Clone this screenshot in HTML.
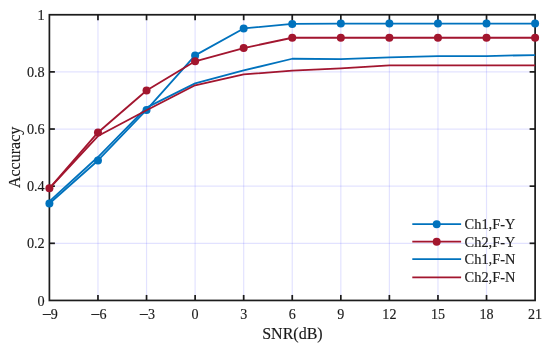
<!DOCTYPE html><html><head><meta charset="utf-8"><title>Accuracy vs SNR</title>
<style>html,body{margin:0;padding:0;background:#fff}svg{display:block}text{font-family:"Liberation Serif","Times New Roman",serif;fill:#1a1a1a;stroke:#1a1a1a;stroke-width:0.15px}</style></head><body>
<svg width="550" height="347" viewBox="0 0 550 347">
<defs><filter id="soft" x="0" y="0" width="550" height="347" filterUnits="userSpaceOnUse"><feGaussianBlur stdDeviation="0.35"/></filter></defs>
<rect width="550" height="347" fill="#fff"/>
<g filter="url(#soft)">
<g stroke="#0000ff" stroke-opacity="0.115" stroke-width="1.2" fill="none"><line x1="97.97" y1="14.75" x2="97.97" y2="300.45"/><line x1="146.54" y1="14.75" x2="146.54" y2="300.45"/><line x1="195.11" y1="14.75" x2="195.11" y2="300.45"/><line x1="243.68" y1="14.75" x2="243.68" y2="300.45"/><line x1="292.25" y1="14.75" x2="292.25" y2="300.45"/><line x1="340.82" y1="14.75" x2="340.82" y2="300.45"/><line x1="389.39" y1="14.75" x2="389.39" y2="300.45"/><line x1="437.96" y1="14.75" x2="437.96" y2="300.45"/><line x1="486.53" y1="14.75" x2="486.53" y2="300.45"/><line x1="49.4" y1="243.31" x2="535.1" y2="243.31"/><line x1="49.4" y1="186.17" x2="535.1" y2="186.17"/><line x1="49.4" y1="129.03" x2="535.1" y2="129.03"/><line x1="49.4" y1="71.89" x2="535.1" y2="71.89"/></g>
<g stroke="#1a1a1a" stroke-width="1.7" fill="none"><line x1="97.97" y1="300.45" x2="97.97" y2="294.95"/><line x1="97.97" y1="14.75" x2="97.97" y2="20.25"/><line x1="146.54" y1="300.45" x2="146.54" y2="294.95"/><line x1="146.54" y1="14.75" x2="146.54" y2="20.25"/><line x1="195.11" y1="300.45" x2="195.11" y2="294.95"/><line x1="195.11" y1="14.75" x2="195.11" y2="20.25"/><line x1="243.68" y1="300.45" x2="243.68" y2="294.95"/><line x1="243.68" y1="14.75" x2="243.68" y2="20.25"/><line x1="292.25" y1="300.45" x2="292.25" y2="294.95"/><line x1="292.25" y1="14.75" x2="292.25" y2="20.25"/><line x1="340.82" y1="300.45" x2="340.82" y2="294.95"/><line x1="340.82" y1="14.75" x2="340.82" y2="20.25"/><line x1="389.39" y1="300.45" x2="389.39" y2="294.95"/><line x1="389.39" y1="14.75" x2="389.39" y2="20.25"/><line x1="437.96" y1="300.45" x2="437.96" y2="294.95"/><line x1="437.96" y1="14.75" x2="437.96" y2="20.25"/><line x1="486.53" y1="300.45" x2="486.53" y2="294.95"/><line x1="486.53" y1="14.75" x2="486.53" y2="20.25"/><line x1="49.4" y1="243.31" x2="54.9" y2="243.31"/><line x1="535.1" y1="243.31" x2="529.6" y2="243.31"/><line x1="49.4" y1="186.17" x2="54.9" y2="186.17"/><line x1="535.1" y1="186.17" x2="529.6" y2="186.17"/><line x1="49.4" y1="129.03" x2="54.9" y2="129.03"/><line x1="535.1" y1="129.03" x2="529.6" y2="129.03"/><line x1="49.4" y1="71.89" x2="54.9" y2="71.89"/><line x1="535.1" y1="71.89" x2="529.6" y2="71.89"/><rect x="49.4" y="14.75" width="485.70000000000005" height="285.7"/></g>
<polyline points="49.40,203.54 97.97,160.46 146.54,109.89 195.11,55.41 243.68,28.46 292.25,23.89 340.82,23.61 389.39,23.61 437.96,23.61 486.53,23.61 535.10,23.61" fill="none" stroke="#0072bd" stroke-width="1.8" stroke-linejoin="round"/>
<circle cx="49.40" cy="203.54" r="4.0" fill="#0072bd"/><circle cx="97.97" cy="160.46" r="4.0" fill="#0072bd"/><circle cx="146.54" cy="109.89" r="4.0" fill="#0072bd"/><circle cx="195.11" cy="55.41" r="4.0" fill="#0072bd"/><circle cx="243.68" cy="28.46" r="4.0" fill="#0072bd"/><circle cx="292.25" cy="23.89" r="4.0" fill="#0072bd"/><circle cx="340.82" cy="23.61" r="4.0" fill="#0072bd"/><circle cx="389.39" cy="23.61" r="4.0" fill="#0072bd"/><circle cx="437.96" cy="23.61" r="4.0" fill="#0072bd"/><circle cx="486.53" cy="23.61" r="4.0" fill="#0072bd"/><circle cx="535.10" cy="23.61" r="4.0" fill="#0072bd"/>
<polyline points="49.40,188.31 97.97,132.46 146.54,90.46 195.11,61.32 243.68,48.03 292.25,37.75 340.82,37.75 389.39,37.75 437.96,37.75 486.53,37.75 535.10,37.75" fill="none" stroke="#a2142f" stroke-width="1.8" stroke-linejoin="round"/>
<circle cx="49.40" cy="188.31" r="4.0" fill="#a2142f"/><circle cx="97.97" cy="132.46" r="4.0" fill="#a2142f"/><circle cx="146.54" cy="90.46" r="4.0" fill="#a2142f"/><circle cx="195.11" cy="61.32" r="4.0" fill="#a2142f"/><circle cx="243.68" cy="48.03" r="4.0" fill="#a2142f"/><circle cx="292.25" cy="37.75" r="4.0" fill="#a2142f"/><circle cx="340.82" cy="37.75" r="4.0" fill="#a2142f"/><circle cx="389.39" cy="37.75" r="4.0" fill="#a2142f"/><circle cx="437.96" cy="37.75" r="4.0" fill="#a2142f"/><circle cx="486.53" cy="37.75" r="4.0" fill="#a2142f"/><circle cx="535.10" cy="37.75" r="4.0" fill="#a2142f"/>
<polyline points="49.40,201.31 97.97,157.03 146.54,107.60 195.11,83.43 243.68,70.46 292.25,58.75 340.82,59.03 389.39,57.32 437.96,56.03 486.53,56.03 535.10,55.03" fill="none" stroke="#0072bd" stroke-width="1.8" stroke-linejoin="round"/>
<polyline points="49.40,188.31 97.97,136.06 146.54,110.17 195.11,85.32 243.68,74.46 292.25,70.55 340.82,68.35 389.39,65.32 437.96,65.32 486.53,65.32 535.10,65.32" fill="none" stroke="#a2142f" stroke-width="1.8" stroke-linejoin="round"/>
<text transform="translate(41.90,318.9) scale(0.94,1.03)" font-size="15.0"><tspan font-size="18.4" dy="1.7">−</tspan><tspan dx="-0.9" dy="-1.7">9</tspan></text>
<text transform="translate(90.47,318.9) scale(0.94,1.03)" font-size="15.0"><tspan font-size="18.4" dy="1.7">−</tspan><tspan dx="-0.9" dy="-1.7">6</tspan></text>
<text transform="translate(139.04,318.9) scale(0.94,1.03)" font-size="15.0"><tspan font-size="18.4" dy="1.7">−</tspan><tspan dx="-0.9" dy="-1.7">3</tspan></text>
<text transform="translate(195.11,318.9) scale(0.94,1.03)" font-size="15.0" text-anchor="middle">0</text>
<text transform="translate(243.68,318.9) scale(0.94,1.03)" font-size="15.0" text-anchor="middle">3</text>
<text transform="translate(292.25,318.9) scale(0.94,1.03)" font-size="15.0" text-anchor="middle">6</text>
<text transform="translate(340.82,318.9) scale(0.94,1.03)" font-size="15.0" text-anchor="middle">9</text>
<text transform="translate(389.39,318.9) scale(0.94,1.03)" font-size="15.0" text-anchor="middle">12</text>
<text transform="translate(437.96,318.9) scale(0.94,1.03)" font-size="15.0" text-anchor="middle">15</text>
<text transform="translate(486.53,318.9) scale(0.94,1.03)" font-size="15.0" text-anchor="middle">18</text>
<text transform="translate(535.10,318.9) scale(0.94,1.03)" font-size="15.0" text-anchor="middle">21</text>
<text transform="translate(44.7,305.55) scale(0.95,1.02)" font-size="15.0" text-anchor="end">0</text>
<text transform="translate(44.7,248.41) scale(0.95,1.02)" font-size="15.0" text-anchor="end">0.2</text>
<text transform="translate(44.7,191.27) scale(0.95,1.02)" font-size="15.0" text-anchor="end">0.4</text>
<text transform="translate(44.7,134.13) scale(0.95,1.02)" font-size="15.0" text-anchor="end">0.6</text>
<text transform="translate(44.7,76.99) scale(0.95,1.02)" font-size="15.0" text-anchor="end">0.8</text>
<text transform="translate(44.7,19.85) scale(0.95,1.02)" font-size="15.0" text-anchor="end">1</text>
<text x="292.4" y="338.7" font-size="16.0" text-anchor="middle">SNR(dB)</text>
<text transform="translate(19.5,157.4) rotate(-90)" font-size="16.0" text-anchor="middle">Accuracy</text>
<line x1="412.3" y1="224.2" x2="461.1" y2="224.2" stroke="#0072bd" stroke-width="1.8"/>
<circle cx="436.7" cy="224.2" r="4.0" fill="#0072bd"/>
<text x="464.6" y="229.00" font-size="14.4">Ch1,F-Y</text>
<line x1="412.3" y1="241.7" x2="461.1" y2="241.7" stroke="#a2142f" stroke-width="1.8"/>
<circle cx="436.7" cy="241.7" r="4.0" fill="#a2142f"/>
<text x="464.6" y="246.50" font-size="14.4">Ch2,F-Y</text>
<line x1="412.3" y1="259.2" x2="461.1" y2="259.2" stroke="#0072bd" stroke-width="1.8"/>
<text x="464.6" y="264.00" font-size="14.4">Ch1,F-N</text>
<line x1="412.3" y1="277.4" x2="461.1" y2="277.4" stroke="#a2142f" stroke-width="1.8"/>
<text x="464.6" y="282.20" font-size="14.4">Ch2,F-N</text>
</g></svg></body></html>
